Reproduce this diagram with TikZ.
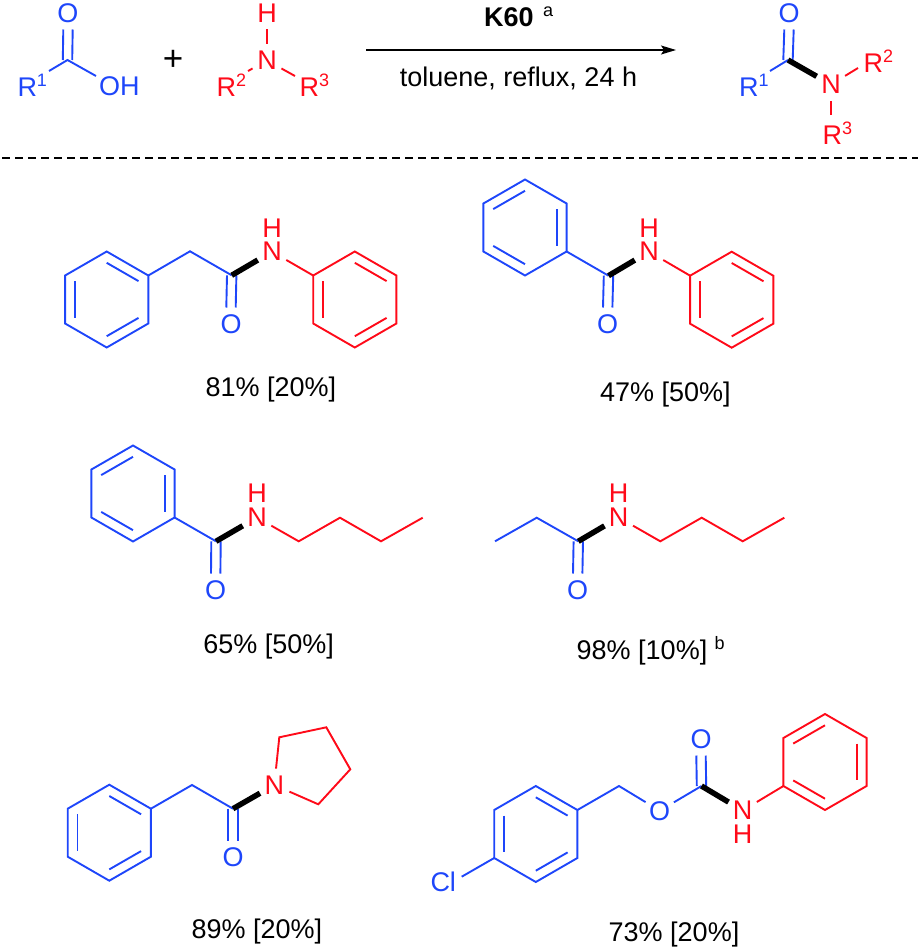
\documentclass[tikz,border=0pt]{standalone}
\usepackage{fontspec}
\setmainfont{Liberation Sans}
\usetikzlibrary{arrows.meta}
\definecolor{mblue}{RGB}{30,70,250}
\definecolor{mred}{RGB}{255,10,25}
\newcommand\bigf{\fontsize{27}{30}\selectfont}
\newcommand\supr[1]{\raisebox{9.5pt}{\fontsize{18}{20}\selectfont #1}}
\tikzset{
  x=1pt,y=-1pt,
  every node/.style={font=\bigf,inner sep=0pt,outer sep=0pt},
  bb/.style={draw=mblue,line width=1.9pt,line join=miter},
  br/.style={draw=mred,line width=1.9pt,line join=miter},
  wedgebond/.style={draw=black,line width=5.5pt},
  atomb/.style={circle,minimum size=33pt,text=mblue},
  atomr/.style={circle,minimum size=33pt,text=mred},
  hr/.style={circle,minimum size=24pt,text=mred},
  labelb/.style={anchor=base west,text=mblue},
  labelr/.style={anchor=base west,text=mred},
  yieldt/.style={anchor=base,text=black},
}
% ring with inner bonds on left, upper right, lower right
\newcommand\ringcoords[3]{%
  \coordinate (#1t) at (#2,#3-48);
  \coordinate (#1ur) at (#2+41.6,#3-24);
  \coordinate (#1lr) at (#2+41.6,#3+24);
  \coordinate (#1b) at (#2,#3+48);
  \coordinate (#1ll) at (#2-41.6,#3+24);
  \coordinate (#1ul) at (#2-41.6,#3-24);
  \coordinate (#1it) at (#2,#3-36.7);
  \coordinate (#1iur) at (#2+31.8,#3-18.4);
  \coordinate (#1ilr) at (#2+31.8,#3+18.4);
  \coordinate (#1ib) at (#2,#3+36.7);
  \coordinate (#1ill) at (#2-31.8,#3+18.4);
  \coordinate (#1iul) at (#2-31.8,#3-18.4);
}
\newcommand\ringA[4]{\ringcoords{#1}{#2}{#3}
  \draw[#4] (#1t) -- (#1ur) -- (#1lr) -- (#1b) -- (#1ll) -- (#1ul) -- cycle;
  \draw[#4] (#1iul) -- (#1ill);
  \draw[#4] (#1it) -- (#1iur);
  \draw[#4] (#1ilr) -- (#1ib);
}
\newcommand\ringB[4]{\ringcoords{#1}{#2}{#3}
  \draw[#4] (#1t) -- (#1ur) -- (#1lr) -- (#1b) -- (#1ll) -- (#1ul) -- cycle;
  \draw[#4] (#1iur) -- (#1ilr);
  \draw[#4] (#1it) -- (#1iul);
  \draw[#4] (#1ill) -- (#1ib);
}
% carbonyl double bond: carbon, oxygen, oxygen anchor
\newcommand\dbl[3]{%
  \draw[bb] ([xshift=-4.7pt]#1) -- ([xshift=-4.7pt]#2.#3);
  \draw[bb] ([xshift=4.7pt]#1) -- ([xshift=4.7pt]#2.#3);
}
\begin{document}
\begin{tikzpicture}
\useasboundingbox (0,0) rectangle (920,950);

% --- reaction: acid
\coordinate (aC) at (67.5,60);
\node[atomb] (aO) at (68,13) {O};
\node[labelb] (aR) at (17.5,96) {R\supr{1}};
\node[labelb] (aOH) at (99,95.5) {OH};
\coordinate (aRe) at (49,71);
\coordinate (aOHe) at (96,76);
\dbl{aC}{aO}{south}
\draw[bb] (aRe) -- (aC) -- (aOHe);
\node[text=black,font=\fontsize{35}{36}\selectfont] (plus) at (173,60.5) {+};

% --- reaction: amine
\node[atomr] (bN) at (267,60.5) {N};
\node[atomr] (bH) at (267,13) {H};
\node[labelr] (bR2) at (216.5,96) {R\supr{2}};
\node[labelr] (bR3) at (299.5,96) {R\supr{3}};
\coordinate (bR2e) at (248,71);
\coordinate (bR3e) at (295,76);
\draw[br] (bH) -- (bN);
\draw[br] (bN) -- (bR2e);
\draw[br] (bN) -- (bR3e);

% --- arrow
\coordinate (arrS) at (366,50);
\coordinate (arrE) at (676,50);
\draw[line width=1.3pt,-{Stealth[length=15pt,width=9pt,inset=3pt]}] (arrS) -- (arrE);
\node[anchor=base west,font=\bigf\bfseries] (k60) at (484,27) {K60};
\node[anchor=base west,font=\fontsize{18}{20}\selectfont] (ka) at (543,17) {a};
\node[yieldt] (cond) at (518.5,86) {toluene, reflux, 24 h};

% --- product
\coordinate (pC) at (788,60);
\node[atomb] (pO) at (789,13) {O};
\node[labelb] (pR1) at (739,96) {R\supr{1}};
\node[atomr] (pN) at (831,84.5) {N};
\node[labelr] (pR2) at (863.5,72) {R\supr{2}};
\node[labelr] (pR3) at (822.5,144) {R\supr{3}};
\coordinate (pR1e) at (770,71);
\coordinate (pR2e) at (858,68);
\coordinate (pR3e) at (831,115);
\dbl{pC}{pO}{south}
\draw[bb] (pC) -- (pR1e);
\draw[wedgebond] (pC) -- (pN);
\draw[br] (pN) -- (pR2e);
\draw[br] (pN) -- (pR3e);

% --- dashed separator
\coordinate (sepL) at (2,158);
\coordinate (sepR) at (918,158);
\draw[line width=1.2pt,dash pattern=on 8pt off 5pt] (sepL) -- (sepR);

% --- molecule 1
\ringA{m1a}{106.7}{299.5}{bb}
\ringA{m1b}{354.8}{299.5}{br}
\coordinate (m1M) at (190,251.3);
\coordinate (m1C) at (231.7,275.3);
\node[atomb] (m1O) at (231,324) {O};
\node[atomr] (m1N) at (272,251.7) {N};
\node[hr] (m1H) at (272,228) {H};
\draw[bb] (m1aur) -- (m1M) -- (m1C);
\dbl{m1C}{m1O}{north}
\draw[wedgebond] (m1C) -- (m1N);
\draw[br] (m1N) -- (m1bul);
\node[yieldt] (y1) at (271,396.7) {81\% [20\%]};

% --- molecule 2
\ringB{m2a}{525}{227.5}{bb}
\ringA{m2b}{731.7}{299.7}{br}
\coordinate (m2C) at (608.5,275.7);
\node[atomb] (m2O) at (607.7,324) {O};
\node[atomr] (m2N) at (649,251.7) {N};
\node[hr] (m2H) at (649,228) {H};
\draw[bb] (m2alr) -- (m2C);
\dbl{m2C}{m2O}{north}
\draw[wedgebond] (m2C) -- (m2N);
\draw[br] (m2N) -- (m2bul);
\node[yieldt] (y2) at (665.3,401) {47\% [50\%]};

% --- molecule 3
\ringB{m3a}{133}{493.5}{bb}
\coordinate (m3C) at (216,541.3);
\node[atomb] (m3O) at (215.7,590) {O};
\node[atomr] (m3N) at (257,517.5) {N};
\node[hr] (m3H) at (257,493.5) {H};
\coordinate (m3c1) at (298.7,541.3);
\coordinate (m3c2) at (340,517.7);
\coordinate (m3c3) at (381,541.3);
\coordinate (m3c4) at (422.7,517.7);
\draw[bb] (m3alr) -- (m3C);
\dbl{m3C}{m3O}{north}
\draw[wedgebond] (m3C) -- (m3N);
\draw[br] (m3N) -- (m3c1) -- (m3c2) -- (m3c3) -- (m3c4);
\node[yieldt] (y3) at (268.7,653.3) {65\% [50\%]};

% --- molecule 4
\coordinate (m4e1) at (495,541.3);
\coordinate (m4e2) at (536.7,517.7);
\coordinate (m4C) at (578.3,541.3);
\node[atomb] (m4O) at (577.7,590) {O};
\node[atomr] (m4N) at (618.7,517.5) {N};
\node[hr] (m4H) at (618.7,493.5) {H};
\coordinate (m4c1) at (660.3,541.3);
\coordinate (m4c2) at (701.7,517.7);
\coordinate (m4c3) at (742.7,541.3);
\coordinate (m4c4) at (784.3,517.7);
\draw[bb] (m4e1) -- (m4e2) -- (m4C);
\dbl{m4C}{m4O}{north}
\draw[wedgebond] (m4C) -- (m4N);
\draw[br] (m4N) -- (m4c1) -- (m4c2) -- (m4c3) -- (m4c4);
\node[yieldt] (y4) at (642,659) {98\% [10\%]};
\node[anchor=base west,font=\fontsize{18}{20}\selectfont] (y4b) at (714.5,649) {b};

% --- molecule 5
\ringA{m5a}{109.3}{832.7}{bb}
\coordinate (m5M) at (192,785);
\coordinate (m5C) at (233,808.7);
\node[atomb] (m5O) at (233,857.3) {O};
\node[atomr] (m5N) at (274.3,785) {N};
\coordinate (m5r1) at (279.3,737.3);
\coordinate (m5r2) at (326.3,727.3);
\coordinate (m5r3) at (350.3,769.3);
\coordinate (m5r4) at (318.3,804.3);
\draw[bb] (m5aur) -- (m5M) -- (m5C);
\dbl{m5C}{m5O}{north}
\draw[wedgebond] (m5C) -- (m5N);
\draw[br] (m5N) -- (m5r1) -- (m5r2) -- (m5r3) -- (m5r4) -- (m5N);
\node[yieldt] (y5) at (257,938) {89\% [20\%]};

% --- molecule 6
\ringA{m6a}{535.8}{834}{bb}
\ringB{m6b}{825}{762}{br}
\node[labelb] (m6Cl) at (430.5,891) {Cl};
\coordinate (m6Cle) at (461.7,876.7);
\coordinate (m6M) at (619,786);
\node[atomb] (m6Oe) at (659.7,810.7) {O};
\coordinate (m6C) at (701.5,786);
\node[atomb] (m6O) at (701,739) {O};
\node[atomr] (m6N) at (742.7,810.5) {N};
\node[hr] (m6H) at (742.7,834.5) {H};
\draw[bb] (m6all) -- (m6Cle);
\draw[bb] (m6aur) -- (m6M) -- (m6Oe);
\draw[bb] (m6Oe) -- (m6C);
\dbl{m6C}{m6O}{south}
\draw[wedgebond] (m6C) -- (m6N);
\draw[br] (m6N) -- (m6bll);
\node[yieldt] (y6) at (674,941.7) {73\% [20\%]};
\end{tikzpicture}
\end{document}
